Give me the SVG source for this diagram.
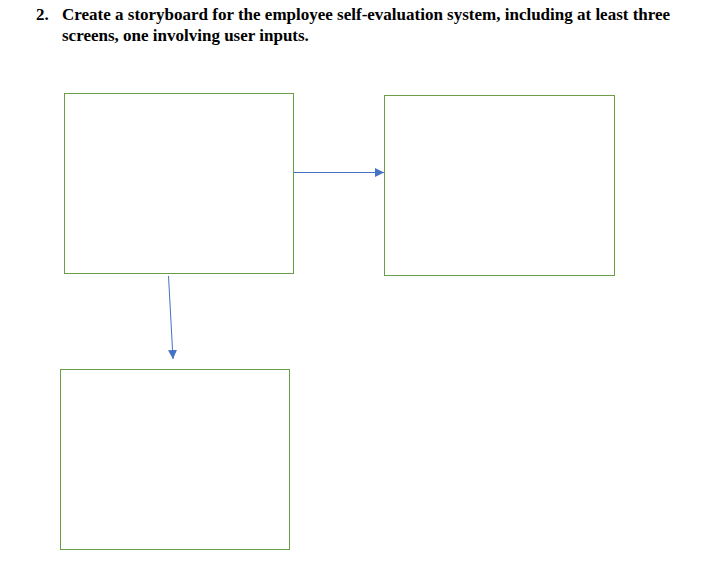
<svg xmlns="http://www.w3.org/2000/svg" width="713" height="568" viewBox="0 0 713 568">
<style>
.t{font-family:"Liberation Serif","Times New Roman",serif;font-weight:bold;font-size:17px;fill:#000}
.box{fill:#fff;stroke:#6A9E45;stroke-width:1}
.c{stroke:#4472C4;stroke-width:1;fill:none}
</style>
<defs>
<marker id="ah" viewBox="0 0 10 10" refX="10" refY="5" markerWidth="9" markerHeight="9" markerUnits="userSpaceOnUse" orient="auto">
<path d="M0,0 L10,5 L0,10 z" fill="#4472C4"/>
</marker>
</defs>
<rect width="713" height="568" fill="#fff"/>
<g id="title">
<text class="t" x="36" y="20">2.</text>
<text class="t" x="62" y="20">Create a storyboard for the employee self-evaluation system, including at least three</text>
<text class="t" x="62" y="41">screens, one involving user inputs.</text>
</g>
<g id="screen1"><rect class="box" x="64.5" y="93.5" width="229" height="180"/></g>
<g id="screen2"><rect class="box" x="384.5" y="95.5" width="230" height="180"/></g>
<g id="screen3"><rect class="box" x="60.5" y="369.5" width="229" height="180"/></g>
<g id="connectors">
<line class="c" x1="294" y1="172.5" x2="384" y2="172.5" marker-end="url(#ah)"/>
<line class="c" x1="168.5" y1="276" x2="173" y2="359" marker-end="url(#ah)"/>
</g>
</svg>
